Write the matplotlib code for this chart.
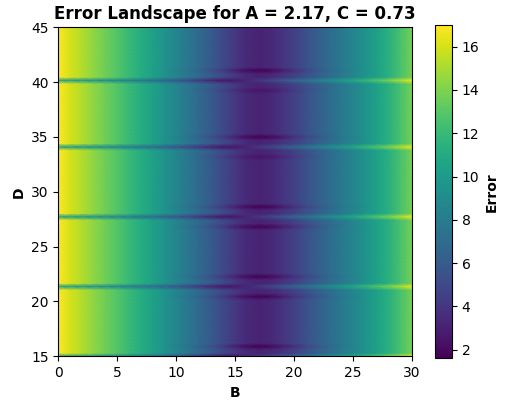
import numpy as np
import matplotlib.pyplot as plt

# error values, one value per integer B (0..30)
b_vals = np.arange(0, 31)
err_base = [17.0, 16.0, 15.2, 14.4, 13.6, 12.8, 12.0, 11.2, 10.4, 9.5,
            8.6, 7.7, 6.8, 5.9, 5.0, 4.1, 3.4, 3.1, 3.3, 3.9,
            4.6, 5.4, 6.2, 7.0, 7.8, 8.6, 9.5, 10.4, 11.4, 12.5, 13.8]
# bright/shifted stripe rows
err_stripe = [10.6, 10.2, 9.8, 9.4, 9.0, 8.6, 8.1, 7.6, 7.0, 6.4,
              5.7, 4.9, 4.0, 3.1, 2.5, 2.6, 3.3, 4.1, 5.0, 5.9,
              6.8, 7.6, 8.4, 9.2, 10.0, 10.9, 11.8, 12.8, 13.9, 15.2, 16.6]
# dark rows next to the stripes (deeper minimum)
err_dark = [17.0, 16.0, 15.2, 14.4, 13.6, 12.8, 12.0, 11.2, 10.4, 9.4,
            8.4, 7.4, 6.4, 5.3, 4.1, 2.9, 2.0, 1.6, 1.9, 2.7,
            3.7, 4.7, 5.7, 6.7, 7.6, 8.5, 9.4, 10.4, 11.4, 12.5, 13.8]
err_faint = [17.0, 16.0, 15.2, 14.4, 13.6, 12.8, 12.0, 11.2, 10.4, 9.5,
             8.5, 7.6, 6.6, 5.6, 4.6, 3.5, 2.7, 2.4, 2.6, 3.3,
             4.2, 5.1, 6.0, 6.9, 7.7, 8.6, 9.5, 10.4, 11.4, 12.5, 13.8]

stripe_d = [15.1, 21.4, 27.7, 34.0, 40.2]
dark_d = [15.9, 20.4, 22.3, 26.8, 28.6, 34.9, 41.1]
faint_d = [33.1, 39.3]

d_vals = np.linspace(15, 45, 100)

Z = np.tile(np.array(err_base), (len(d_vals), 1))
for rows, prof in [(dark_d, err_dark), (faint_d, err_faint), (stripe_d, err_stripe)]:
    for d in rows:
        Z[np.argmin(np.abs(d_vals - d))] = prof

fig = plt.figure(figsize=(5.21, 4.03), dpi=100)
W, H = 521, 403
ax = fig.add_axes([58.3 / W, (H - 356.3) / H, (412 - 58.3) / W, (356.3 - 27.2) / H])
cax = fig.add_axes([435 / W, (H - 358.3) / H, 17 / W, (358.3 - 25) / H])

BB, DD = np.meshgrid(b_vals, d_vals)
mesh = ax.pcolormesh(BB, DD, Z, cmap='viridis', shading='gouraud')
ax.set_xlim(0, 30)
ax.set_ylim(15, 45)
ax.set_xticks([0, 5, 10, 15, 20, 25, 30])
ax.set_yticks([15, 20, 25, 30, 35, 40, 45])
ax.set_xlabel('B', fontweight='bold')
ax.set_ylabel('D', fontweight='bold')
ax.set_title('Error Landscape for A = 2.17, C = 0.73', fontweight='bold', fontsize=12)

cb = fig.colorbar(mesh, cax=cax)
cb.set_ticks([2, 4, 6, 8, 10, 12, 14, 16])
cb.set_label('Error', fontweight='bold')

fig.savefig('out.png', dpi=100)
